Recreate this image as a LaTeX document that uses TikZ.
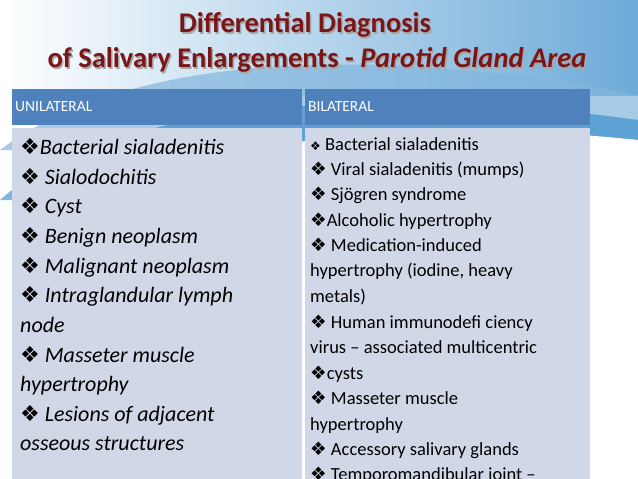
\documentclass[tikz,border=0pt]{standalone}
\usepackage{fontspec}
\setmainfont{Carlito}
\newfontfamily\bulfont{DejaVu Sans}
\definecolor{hdr}{HTML}{4F81BD}
\definecolor{cellc}{HTML}{D0D8E8}
\definecolor{ttl}{HTML}{7A1518}
\definecolor{bgb}{HTML}{2E86C8}
\newcommand{\bul}{{\bulfont\char"2756}}
\tikzset{
  lt/.style={anchor=base west,inner sep=0pt,font=\fontsize{22}{26}\selectfont\itshape},
  rt/.style={anchor=base west,inner sep=0pt,font=\fontsize{18.5}{22}\selectfont},
  hd/.style={anchor=west,inner sep=0pt,text=white,font=\fontsize{15.5}{18}\selectfont},
  tt/.style={inner sep=0pt,text=ttl,font=\fontsize{28.5}{34}\selectfont\bfseries}
}
\begin{document}
\begin{tikzpicture}[x=1pt,y=-1pt]
\useasboundingbox (0,0) rectangle (638,479);
\begin{scope}
\clip (0,0) rectangle (638,479);
\fill[white] (0,0) rectangle (638,479);
\shade[left color=white,right color=bgb!70] (0,0) rectangle (638,95);
\fill[bgb!60,opacity=0.7] (0,150) .. controls (120,60) and (350,40) .. (638,95) -- (638,150) -- cycle;
\fill[bgb,opacity=0.6] (0,200) .. controls (100,110) and (350,80) .. (638,120) -- (638,200) -- cycle;
\fill[white] (0,260) .. controls (150,150) and (350,110) .. (638,140) -- (638,479) -- (0,479) -- cycle;
\fill[hdr] (12,89) rectangle (302,125);
\fill[hdr] (305,89) rectangle (590,125);
\fill[cellc] (12,128) rectangle (302,479);
\fill[cellc] (305,128) rectangle (590,479);
\node[hd] (h1) at (15,107) {UNILATERAL};
\node[hd] (h2) at (308,107) {BILATERAL};
\node[tt,text=black!35] at (306.5,26.5) {Differential Diagnosis};
\node[tt] (t1) at (305,25) {Differential Diagnosis};
\node[tt,text=black!35] at (318.5,61.5) {of Salivary Enlargements - \textit{Parotid Gland Area}};
\node[tt] (t2) at (317,60) {of Salivary Enlargements - \textit{Parotid Gland Area}};
\node[lt] (l1) at (20,154) {\bul Bacterial sialadenitis};
\node[lt] (l2) at (20,184) {\bul\ Sialodochitis};
\node[lt] (l3) at (20,213) {\bul\ Cyst};
\node[lt] (l4) at (20,243) {\bul\ Benign neoplasm};
\node[lt] (l5) at (20,273) {\bul\ Malignant neoplasm};
\node[lt] (l6) at (20,302) {\bul\ Intraglandular lymph};
\node[lt] (l7) at (20,332) {node};
\node[lt] (l8) at (20,362) {\bul\ Masseter muscle};
\node[lt] (l9) at (20,391) {hypertrophy};
\node[lt] (l10) at (20,421) {\bul\ Lesions of adjacent};
\node[lt] (l11) at (20,450) {osseous structures};
\node[rt] (r1) at (310,150) {{\fontsize{12}{14}\selectfont\bul}\ Bacterial sialadenitis};
\node[rt] (r2) at (310,175) {\bul\ Viral sialadenitis (mumps)};
\node[rt] (r3) at (310,200) {\bul\ Sjögren syndrome};
\node[rt] (r4) at (310,226) {\bul Alcoholic hypertrophy};
\node[rt] (r5) at (310,251) {\bul\ Medication-induced};
\node[rt] (r6) at (310,276) {hypertrophy (iodine, heavy};
\node[rt] (r7) at (310,302) {metals)};
\node[rt] (r8) at (310,328) {\bul\ Human immunodefi ciency};
\node[rt] (r9) at (310,353) {virus – associated multicentric};
\node[rt] (r10) at (310,379) {\bul cysts};
\node[rt] (r11) at (310,404) {\bul\ Masseter muscle};
\node[rt] (r12) at (310,430) {hypertrophy};
\node[rt] (r13) at (310,455) {\bul\ Accessory salivary glands};
\node[rt] (r14) at (310,480) {\bul\ Temporomandibular joint –};
\end{scope}
\end{tikzpicture}
\end{document}
